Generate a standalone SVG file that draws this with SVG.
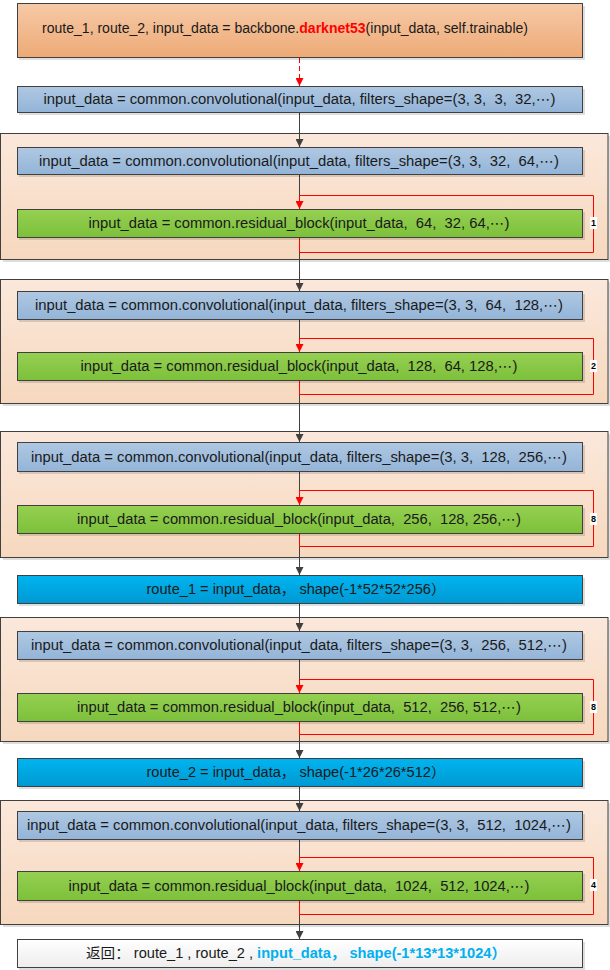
<svg xmlns="http://www.w3.org/2000/svg" width="610" height="970" viewBox="0 0 610 970">
<defs>
<linearGradient id="gOrange" x1="0" y1="0" x2="0" y2="1"><stop offset="0" stop-color="#F6C9A7"/><stop offset="1" stop-color="#EDAA76"/></linearGradient>
<linearGradient id="gPeach" x1="0" y1="0" x2="0" y2="1"><stop offset="0" stop-color="#FBE8DB"/><stop offset="1" stop-color="#F6D8BE"/></linearGradient>
<linearGradient id="gConv" x1="0" y1="0" x2="0" y2="1"><stop offset="0" stop-color="#AFC8E2"/><stop offset="1" stop-color="#93B4D8"/></linearGradient>
<linearGradient id="gRes" x1="0" y1="0" x2="0" y2="1"><stop offset="0" stop-color="#96D052"/><stop offset="1" stop-color="#7CC03A"/></linearGradient>
<linearGradient id="gRoute" x1="0" y1="0" x2="0" y2="1"><stop offset="0" stop-color="#00B4F0"/><stop offset="1" stop-color="#0099D2"/></linearGradient>
<linearGradient id="gWhite" x1="0" y1="0" x2="0" y2="1"><stop offset="0" stop-color="#FFFFFF"/><stop offset="1" stop-color="#EDEDED"/></linearGradient>
<marker id="aBlack" viewBox="0 0 10 10" refX="10" refY="5" markerWidth="8" markerHeight="8" markerUnits="userSpaceOnUse" orient="auto"><path d="M0,0 L10,5 L0,10 z" fill="#404040"/></marker>
<marker id="aRed" viewBox="0 0 10 10" refX="10" refY="5" markerWidth="8" markerHeight="8" markerUnits="userSpaceOnUse" orient="auto"><path d="M0,0 L10,5 L0,10 z" fill="#FF0000"/></marker>
<style>
.box{stroke:#404040;stroke-width:1}
.sh{fill:#000;opacity:0.13}
.t{font-family:"Liberation Sans","Noto Sans CJK SC",sans-serif;font-size:14px;fill:#1a1a1a;text-anchor:middle;white-space:pre}
.e{font-family:"DejaVu Sans",sans-serif}
.lbl{font-family:"Liberation Sans",sans-serif;font-size:9px;font-weight:bold;fill:#000;text-anchor:middle}
.c{fill:none;stroke:#404040;stroke-width:1}
.r{fill:none;stroke:#FF0000;stroke-width:1}
</style>
</defs>

<g id="containers">
<g id="stage1"><rect class="sh" x="3" y="136" width="607" height="126"/><rect class="box" x="0.5" y="133.5" width="607.5" height="126" fill="url(#gPeach)"/></g>
<g id="stage2"><rect class="sh" x="3" y="282" width="607" height="124"/><rect class="box" x="0.5" y="279.5" width="607.5" height="124" fill="url(#gPeach)"/></g>
<g id="stage3"><rect class="sh" x="3" y="434" width="607" height="126"/><rect class="box" x="0.5" y="431.5" width="607.5" height="126" fill="url(#gPeach)"/></g>
<g id="stage4"><rect class="sh" x="3" y="620" width="607" height="124"/><rect class="box" x="0.5" y="617.5" width="607.5" height="124" fill="url(#gPeach)"/></g>
<g id="stage5"><rect class="sh" x="3" y="803" width="607" height="124"/><rect class="box" x="0.5" y="800.5" width="607.5" height="124" fill="url(#gPeach)"/></g>
</g>

<g id="connectors">
<line x1="299.5" y1="58" x2="299.5" y2="86" stroke="#FF0000" stroke-dasharray="5,3" marker-end="url(#aRed)"/>
<line class="c" x1="299.5" y1="112" x2="299.5" y2="147" marker-end="url(#aBlack)"/>
<line class="c" x1="299.5" y1="174" x2="299.5" y2="209"/>
<line class="c" x1="299.5" y1="237" x2="299.5" y2="291" marker-end="url(#aBlack)"/>
<line class="c" x1="299.5" y1="319" x2="299.5" y2="352"/>
<line class="c" x1="299.5" y1="380" x2="299.5" y2="442" marker-end="url(#aBlack)"/>
<line class="c" x1="299.5" y1="471" x2="299.5" y2="505"/>
<line class="c" x1="299.5" y1="533" x2="299.5" y2="575" marker-end="url(#aBlack)"/>
<line class="c" x1="299.5" y1="603" x2="299.5" y2="631" marker-end="url(#aBlack)"/>
<line class="c" x1="299.5" y1="659" x2="299.5" y2="693"/>
<line class="c" x1="299.5" y1="721" x2="299.5" y2="758" marker-end="url(#aBlack)"/>
<line class="c" x1="299.5" y1="786" x2="299.5" y2="811" marker-end="url(#aBlack)"/>
<line class="c" x1="299.5" y1="839" x2="299.5" y2="871"/>
<line class="c" x1="299.5" y1="900" x2="299.5" y2="939" marker-end="url(#aBlack)"/>
<path class="r" d="M299.5,237 V252.5 H593.5 V195.5 H299.5 V209" marker-end="url(#aRed)"/>
<path class="r" d="M299.5,380 V394.5 H593.5 V338.5 H299.5 V352" marker-end="url(#aRed)"/>
<path class="r" d="M299.5,533 V546.5 H593.5 V490.5 H299.5 V505" marker-end="url(#aRed)"/>
<path class="r" d="M299.5,721 V734.5 H593.5 V679.5 H299.5 V693" marker-end="url(#aRed)"/>
<path class="r" d="M299.5,900 V914.5 H593.5 V857.5 H299.5 V871" marker-end="url(#aRed)"/>
<rect x="590" y="217" width="7" height="12" fill="#fff"/><text class="lbl" x="593.5" y="226">1</text>
<rect x="590" y="360" width="7" height="12" fill="#fff"/><text class="lbl" x="593.5" y="369">2</text>
<rect x="590" y="513" width="7" height="12" fill="#fff"/><text class="lbl" x="593.5" y="522">8</text>
<rect x="590" y="701" width="7" height="12" fill="#fff"/><text class="lbl" x="593.5" y="710">8</text>
<rect x="590" y="879" width="7" height="12" fill="#fff"/><text class="lbl" x="593.5" y="888">4</text>
</g>

<g id="backbone"><rect class="sh" x="19" y="6" width="566" height="54"/><rect class="box" x="17.5" y="3.5" width="565" height="54" fill="url(#gOrange)"/>
<text class="t" x="285" y="33" font-size="14.5" textLength="486" lengthAdjust="spacingAndGlyphs">route_1, route_2, input_data = backbone.<tspan fill="#FF0000" font-weight="bold">darknet53</tspan>(input_data, self.trainable)</text></g>

<g id="conv0"><rect class="sh" x="19" y="89" width="566" height="26"/><rect class="box" x="17.5" y="86.5" width="565" height="26" fill="url(#gConv)"/>
<text class="t" x="299.5" y="104" textLength="512" lengthAdjust="spacingAndGlyphs">input_data = common.convolutional(input_data, filters_shape=(3, 3,  3,  32,<tspan class="e">⋯</tspan>)</text></g>

<g id="conv1"><rect class="sh" x="19" y="150" width="566" height="27"/><rect class="box" x="17.5" y="147.5" width="565" height="27" fill="url(#gConv)"/>
<text class="t" x="299" y="166" textLength="520" lengthAdjust="spacingAndGlyphs">input_data = common.convolutional(input_data, filters_shape=(3, 3,  32,  64,<tspan class="e">⋯</tspan>)</text></g>
<g id="res1"><rect class="sh" x="19" y="212" width="566" height="28"/><rect class="box" x="17.5" y="209.5" width="565" height="28" fill="url(#gRes)"/>
<text class="t" x="299" y="228" textLength="421" lengthAdjust="spacingAndGlyphs">input_data = common.residual_block(input_data,  64,  32, 64,<tspan class="e">⋯</tspan>)</text></g>

<g id="conv2"><rect class="sh" x="19" y="294" width="566" height="28"/><rect class="box" x="17.5" y="291.5" width="565" height="28" fill="url(#gConv)"/>
<text class="t" x="299" y="310" textLength="528" lengthAdjust="spacingAndGlyphs">input_data = common.convolutional(input_data, filters_shape=(3, 3,  64,  128,<tspan class="e">⋯</tspan>)</text></g>
<g id="res2"><rect class="sh" x="19" y="355" width="566" height="28"/><rect class="box" x="17.5" y="352.5" width="565" height="28" fill="url(#gRes)"/>
<text class="t" x="299" y="371" textLength="437" lengthAdjust="spacingAndGlyphs">input_data = common.residual_block(input_data,  128,  64, 128,<tspan class="e">⋯</tspan>)</text></g>

<g id="conv3"><rect class="sh" x="19" y="445" width="566" height="29"/><rect class="box" x="17.5" y="442.5" width="565" height="29" fill="url(#gConv)"/>
<text class="t" x="299" y="462" textLength="536" lengthAdjust="spacingAndGlyphs">input_data = common.convolutional(input_data, filters_shape=(3, 3,  128,  256,<tspan class="e">⋯</tspan>)</text></g>
<g id="res3"><rect class="sh" x="19" y="508" width="566" height="28"/><rect class="box" x="17.5" y="505.5" width="565" height="28" fill="url(#gRes)"/>
<text class="t" x="299" y="524" textLength="444" lengthAdjust="spacingAndGlyphs">input_data = common.residual_block(input_data,  256,  128, 256,<tspan class="e">⋯</tspan>)</text></g>

<g id="route1"><rect class="sh" x="19" y="578" width="566" height="28"/><rect class="box" x="17.5" y="575.5" width="565" height="28" fill="url(#gRoute)"/>
<text class="t" x="296" y="594" textLength="299" lengthAdjust="spacingAndGlyphs">route_1 = input_data， shape(-1*52*52*256）</text></g>

<g id="conv4"><rect class="sh" x="19" y="634" width="566" height="28"/><rect class="box" x="17.5" y="631.5" width="565" height="28" fill="url(#gConv)"/>
<text class="t" x="299" y="650" textLength="536" lengthAdjust="spacingAndGlyphs">input_data = common.convolutional(input_data, filters_shape=(3, 3,  256,  512,<tspan class="e">⋯</tspan>)</text></g>
<g id="res4"><rect class="sh" x="19" y="696" width="566" height="28"/><rect class="box" x="17.5" y="693.5" width="565" height="28" fill="url(#gRes)"/>
<text class="t" x="299" y="712" textLength="444" lengthAdjust="spacingAndGlyphs">input_data = common.residual_block(input_data,  512,  256, 512,<tspan class="e">⋯</tspan>)</text></g>

<g id="route2"><rect class="sh" x="19" y="761" width="566" height="28"/><rect class="box" x="17.5" y="758.5" width="565" height="28" fill="url(#gRoute)"/>
<text class="t" x="296" y="777" textLength="299" lengthAdjust="spacingAndGlyphs">route_2 = input_data， shape(-1*26*26*512）</text></g>

<g id="conv5"><rect class="sh" x="19" y="814" width="566" height="28"/><rect class="box" x="17.5" y="811.5" width="565" height="28" fill="url(#gConv)"/>
<text class="t" x="299" y="830" textLength="544" lengthAdjust="spacingAndGlyphs">input_data = common.convolutional(input_data, filters_shape=(3, 3,  512,  1024,<tspan class="e">⋯</tspan>)</text></g>
<g id="res5"><rect class="sh" x="19" y="874" width="566" height="29"/><rect class="box" x="17.5" y="871.5" width="565" height="29" fill="url(#gRes)"/>
<text class="t" x="299" y="891" textLength="461" lengthAdjust="spacingAndGlyphs">input_data = common.residual_block(input_data,  1024,  512, 1024,<tspan class="e">⋯</tspan>)</text></g>

<g id="result"><rect class="sh" x="19" y="942" width="566" height="28"/><rect class="box" x="17.5" y="939.5" width="565" height="28" fill="url(#gWhite)"/>
<text class="t" x="296" y="958" textLength="420" lengthAdjust="spacingAndGlyphs">返回： route_1 , route_2 , <tspan fill="#00B0F0" font-weight="bold">input_data， shape(-1*13*13*1024）</tspan></text></g>
</svg>
